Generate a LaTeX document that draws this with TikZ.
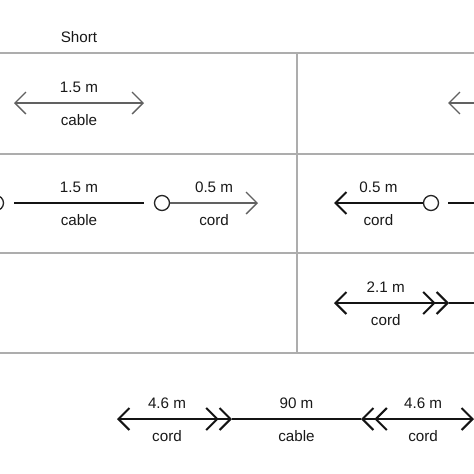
\documentclass[tikz,border=0pt]{standalone}
\usepackage{fontspec}
\setmainfont{Liberation Sans}
\usetikzlibrary{arrows.meta}
\begin{document}
\begin{tikzpicture}[x=1pt,y=-1pt,
  grid/.style={draw=black!32, line width=1.2pt},
  lbl/.style={font=\fontsize{15.2}{18}\selectfont, text=black!90, inner sep=0pt},
  up/.style={lbl, yshift=15.5pt},
  dn/.style={lbl, yshift=-17pt},
  cable/.style={draw=black!92, line width=2pt},
  cordline/.style={draw=black!62, line width=1.4pt},
  plug/.style={circle, draw=black!85, line width=1.3pt, fill=white, minimum size=15pt, inner sep=0pt},
  chev/.tip={Straight Barb[length=11pt,width=22pt,sep=0pt]}
]
\useasboundingbox[fill=white] (0,0) rectangle (474,474);

% header
\node[lbl] (short) at (79,37) {Short};

% grid
\coordinate (g1l) at (0,53);  \coordinate (g1r) at (474,53);
\coordinate (g2l) at (0,154); \coordinate (g2r) at (474,154);
\coordinate (g3l) at (0,253); \coordinate (g3r) at (474,253);
\coordinate (g4l) at (0,353); \coordinate (g4r) at (474,353);
\coordinate (vt) at (297,53); \coordinate (vb) at (297,353);
\draw[grid] (g1l) -- (g1r);
\draw[grid] (g2l) -- (g2r);
\draw[grid] (g3l) -- (g3r);
\draw[grid] (g4l) -- (g4r);
\draw[grid] (vt) -- (vb);

% row 1
\coordinate (a1) at (14,103); \coordinate (a2) at (144,103);
\draw[cordline, {chev}-{chev}] (a1) -- node[up]{1.5 m} node[dn]{cable} (a2);
\coordinate (b1) at (448,103); \coordinate (b2) at (474,103);
\draw[cordline, {chev}-] (b1) -- (b2);

% row 2
\node[plug] (p0) at (-4,203) {};
\coordinate (c1) at (14,203); \coordinate (c2) at (144,203);
\draw[cable] (c1) -- node[up]{1.5 m} node[dn]{cable} (c2);
\node[plug] (p1) at (162,203) {};
\coordinate (c3) at (258,203);
\draw[cordline, -{chev}] (p1) -- node[up]{0.5 m} node[dn]{cord} (c3);
\coordinate (d1) at (334,203);
\node[plug] (p2) at (431,203) {};
\draw[cable, {chev}-] (d1) -- node[up]{0.5 m} node[dn]{cord} (p2);
\coordinate (d2) at (448,203); \coordinate (d3) at (474,203);
\draw[cable] (d2) -- (d3);

% row 3
\coordinate (e1) at (334,303); \coordinate (e2) at (449,303); \coordinate (e3) at (474,303);
\draw[cable, {chev}-{chev[]chev[]}] (e1) -- node[up, pos=0.45]{2.1 m} node[dn, pos=0.45]{cord} (e2);
\draw[cable] (e2) -- (e3);

% row 4
\coordinate (f1) at (117,419); \coordinate (f2) at (232,419);
\coordinate (f3) at (361,419); \coordinate (f4) at (474,419);
\draw[cable, {chev}-{chev[]chev[]}] (f1) -- node[up, pos=0.435]{4.6 m} node[dn, pos=0.435]{cord} (f2);
\draw[cable] (f2) -- node[up]{90 m} node[dn]{cable} (f3);
\draw[cable, {chev[]chev[]}-{chev}] (f3) -- node[up, pos=0.55]{4.6 m} node[dn, pos=0.55]{cord} (f4);
\end{tikzpicture}
\end{document}
